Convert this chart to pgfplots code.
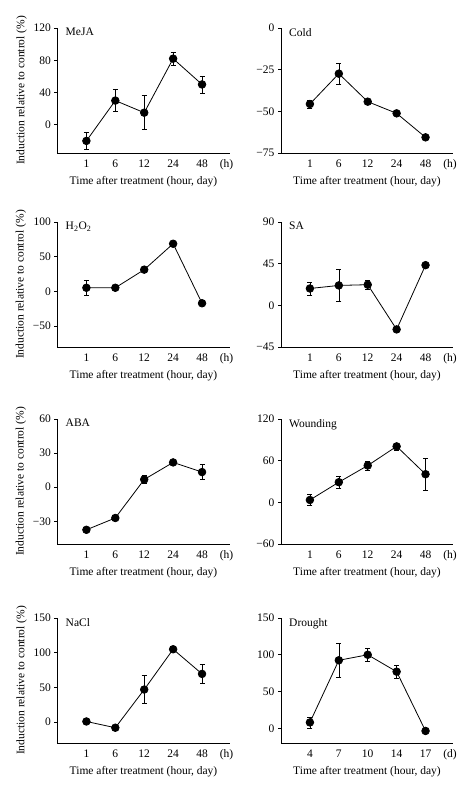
\documentclass[border=0pt]{standalone}
\usepackage{pgfplots}
\pgfplotsset{compat=1.18}
\usepackage{fontspec}
\setmainfont{Liberation Serif}
\tikzset{lab/.style={anchor=north west, inner sep=0pt, font=\fontsize{11.5}{12}\selectfont}}
\pgfplotsset{
  panel/.style={
    scale only axis, width=172pt, height=125pt,
    axis x line*=bottom, axis y line*=left,
    axis line style={-, line width=0.7pt},
    xmin=0, xmax=5.95,
    xtick={1,2,3,4,5,5.85},
    xticklabels={1,6,12,24,48,(h)},
    x tick style={draw=none},
    tick align=outside, major tick length=3pt,
    y tick style={line width=0.7pt, black},
    clip=false,
    tick label style={font=\fontsize{11.5}{12}\selectfont},
    label style={font=\fontsize{11.5}{12}\selectfont},
    xlabel={Time after treatment (hour, day)},
    anchor=south west,
  },
  dat/.style={draw=black, line width=0.8pt, mark=*, mark size=3.8pt,
    mark options={draw=black, fill=black, solid},
    error bars/.cd, y dir=both, y explicit,
    error bar style={line width=0.6pt, black},
    error mark options={rotate=90, mark size=2.5pt, line width=0.6pt, black}},
  yl/.style={ylabel={Induction relative to control (\%)}},
}
\begin{document}
\begin{tikzpicture}
\path[use as bounding box] (0,0) rectangle (474pt,-795pt);
% Row 1
\begin{axis}[panel, yl, at={(57.5pt,-153pt)}, ymin=-35, ymax=120,
  ytick={0,40,80,120}, yticklabels={0,40,80,120}]
\addplot[dat] coordinates {(1,-20) +- (0,11) (2,30) +- (0,13.5) (3,15) +- (0,21) (4,82) +- (0,8) (5,50) +- (0,10.5)};
\node[lab] at (rel axis cs:0,1) [xshift=8pt, yshift=0pt] {MeJA};
\end{axis}
\begin{axis}[panel, at={(281pt,-153pt)}, ymin=-75, ymax=0,
  ytick={-75,-50,-25,0}, yticklabels={−75,−50,−25,0}]
\addplot[dat] coordinates {(1,-45.6) +- (0,2.5) (2,-27.4) +- (0,6.5) (3,-44.2) +- (0,0) (4,-51.2) +- (0,0) (5,-65.6) +- (0,0)};
\node[lab] at (rel axis cs:0,1) [xshift=8pt, yshift=0pt] {Cold};
\end{axis}
% Row 2
\begin{axis}[panel, yl, at={(57.5pt,-347pt)}, ymin=-80, ymax=100,
  ytick={-50,0,50,100}, yticklabels={−50,0,50,100}]
\addplot[dat] coordinates {(1,5.3) +- (0,11) (2,5.3) +- (0,3) (3,31.4) +- (0,0) (4,68.7) +- (0,0) (5,-17) +- (0,0)};
\node[lab] at (rel axis cs:0,1) [xshift=8pt, yshift=0pt] {H\textsubscript{2}O\textsubscript{2}};
\end{axis}
\begin{axis}[panel, at={(281pt,-347pt)}, ymin=-45, ymax=90,
  ytick={-45,0,45,90}, yticklabels={−45,0,45,90}]
\addplot[dat] coordinates {(1,18.2) +- (0,7) (2,21.5) +- (0,17) (3,22.3) +- (0,4.5) (4,-26) +- (0,0) (5,43.4) +- (0,2)};
\node[lab] at (rel axis cs:0,1) [xshift=8pt, yshift=0pt] {SA};
\end{axis}
% Row 3
\begin{axis}[panel, yl, at={(57.5pt,-544pt)}, ymin=-50, ymax=60,
  ytick={-30,0,30,60}, yticklabels={−30,0,30,60}]
\addplot[dat] coordinates {(1,-37.5) +- (0,0) (2,-27.1) +- (0,0) (3,6.8) +- (0,3.5) (4,21.8) +- (0,0) (5,13.3) +- (0,6.6)};
\node[lab] at (rel axis cs:0,1) [xshift=8pt, yshift=0pt] {ABA};
\end{axis}
\begin{axis}[panel, at={(281pt,-544pt)}, ymin=-60, ymax=120,
  ytick={-60,0,60,120}, yticklabels={−60,0,60,120}]
\addplot[dat] coordinates {(1,3.4) +- (0,7.5) (2,29) +- (0,9) (3,53) +- (0,6.5) (4,80.6) +- (0,5) (5,40.5) +- (0,22.5)};
\node[lab] at (rel axis cs:0,1) [xshift=8pt, yshift=0pt] {Wounding};
\end{axis}
% Row 4
\begin{axis}[panel, yl, at={(57.5pt,-743pt)}, ymin=-30, ymax=150,
  ytick={0,50,100,150}, yticklabels={0,50,100,150}]
\addplot[dat] coordinates {(1,1) +- (0,0) (2,-8) +- (0,3) (3,47) +- (0,20) (4,105) +- (0,0) (5,69.5) +- (0,13.5)};
\node[lab] at (rel axis cs:0,1) [xshift=8pt, yshift=0pt] {NaCl};
\end{axis}
\begin{axis}[panel, at={(281pt,-743pt)}, ymin=-20, ymax=150,
  ytick={0,50,100,150}, yticklabels={0,50,100,150},
  xticklabels={4,7,10,14,17,(d)}]
\addplot[dat] coordinates {(1,8) +- (0,7.5) (2,92.5) +- (0,23.5) (3,100) +- (0,9) (4,77) +- (0,8.5) (5,-3.6) +- (0,3)};
\node[lab] at (rel axis cs:0,1) [xshift=8pt, yshift=0pt] {Drought};
\end{axis}
\end{tikzpicture}
\end{document}
